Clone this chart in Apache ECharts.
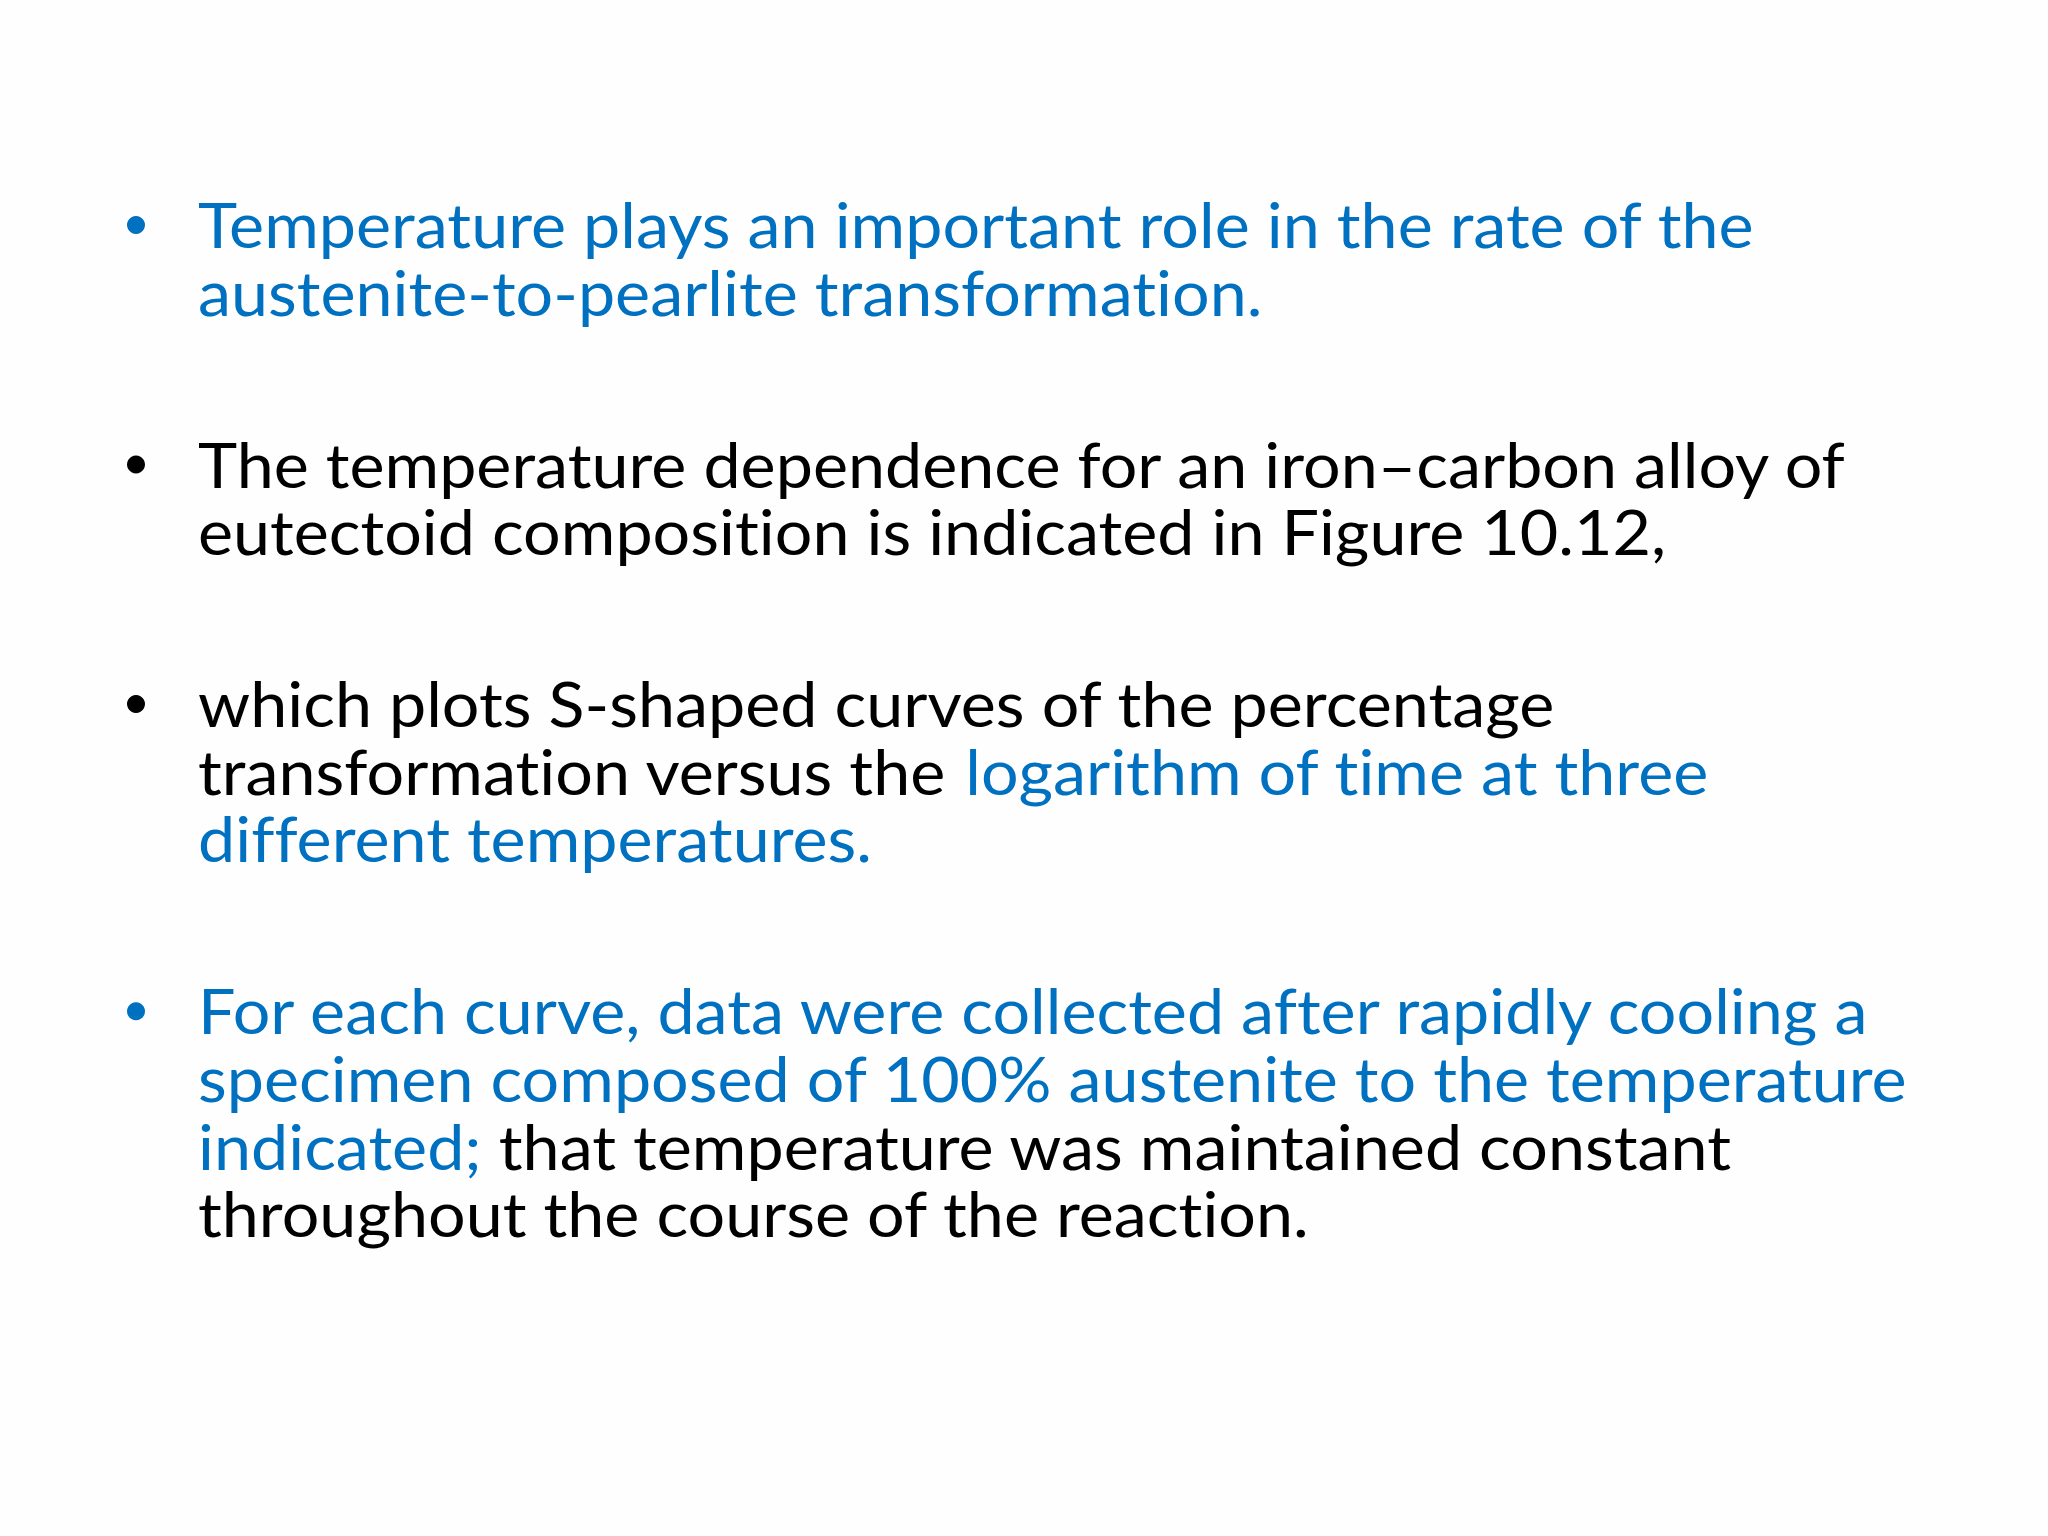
<!DOCTYPE html>
<html>
<head>
<meta charset="utf-8">
<script src="https://cdn.jsdelivr.net/npm/echarts@6/dist/echarts.min.js"></script>
<style>
html,body{margin:0;padding:0;background:#fefefe;}
#chart{width:2048px;height:1536px;}
#chart text, #chart tspan{font-variant-ligatures:none;font-feature-settings:"liga" 0,"clig" 0,"dlig" 0;}
</style>
</head>
<body>
<div id="chart"></div>
<script>
// Slide text: each paragraph is a list of lines, each line a list of [text, colourKey] runs
const para1 = [
  [["Temperature plays an important role in the rate of the", "b"]],
  [["austenite-to-pearlite transformation.", "b"]]
];
const para2 = [
  [["The temperature dependence for an iron\u2013carbon alloy of", "k"]],
  [["eutectoid composition is indicated in Figure 10.12,", "k"]]
];
const para3 = [
  [["which plots S-shaped curves of the percentage", "k"]],
  [["transformation versus the ", "k"], ["logarithm of time at three", "b"]],
  [["different temperatures.", "b"]]
];
const para4 = [
  [["For each curve, data were collected after rapidly cooling a", "b"]],
  [["specimen composed of 100% austenite to the temperature", "b"]],
  [["indicated;", "b"], [" that temperature was maintained constant", "k"]],
  [["throughout the course of the reaction.", "k"]]
];
const paragraphs = [para1, para2, para3, para4];
const bulletKeys = ["b", "k", "k", "b"];

const COLORS = { b: "#0070C0", k: "#000000" };
const FONT_FAMILY = "Lato";
const FONT_SIZE = 62.8;
const TEXT_LEFT = 198;
const FIRST_BASELINE = 249;
const LINE_STEP = 67.7;
const PARA_STEP = 171.8;
const TARGET_LINE1_WIDTH = 1558;
const TEXT_Y_ADJUST = -5;
const BULLET_X = 136;
const BULLET_R = 9;

const cv = document.createElement("canvas");
const ctx = cv.getContext("2d");
ctx.font = FONT_SIZE + "px " + FONT_FAMILY;
function lineText(line) { return line.map(r => r[0]).join(""); }
const scaleX = TARGET_LINE1_WIDTH / ctx.measureText(lineText(para1[0])).width;
ctx.textBaseline = "middle";
const midToBase = ctx.measureText("H").actualBoundingBoxDescent; // baseline offset below middle

const elements = [];
let baseline = FIRST_BASELINE;
paragraphs.forEach((para, pi) => {
  elements.push({
    type: "circle",
    shape: { cx: BULLET_X, cy: baseline - 24, r: BULLET_R },
    style: { fill: COLORS[bulletKeys[pi]] }
  });
  para.forEach((line, li) => {
    const y = baseline + li * LINE_STEP;
    const rich = {};
    let str = "";
    line.forEach((run, ri) => {
      const key = "r" + ri;
      rich[key] = { fill: COLORS[run[1]], fontSize: FONT_SIZE, fontFamily: FONT_FAMILY, lineHeight: FONT_SIZE };
      str += "{" + key + "|" + run[0] + "}";
    });
    elements.push({
      type: "text",
      x: TEXT_LEFT,
      y: y - midToBase + TEXT_Y_ADJUST,
      scaleX: scaleX,
      style: {
        text: str,
        rich: rich,
        fontSize: FONT_SIZE,
        fontFamily: FONT_FAMILY,
        align: "left",
        verticalAlign: "middle",
        lineHeight: FONT_SIZE
      }
    });
  });
  baseline += (para.length - 1) * LINE_STEP + PARA_STEP;
});

const chart = echarts.init(document.getElementById("chart"), null, { renderer: "svg" });
chart.setOption({
  backgroundColor: "#fefefe",
  animation: false,
  graphic: { elements: elements }
});
</script>
</body>
</html>
